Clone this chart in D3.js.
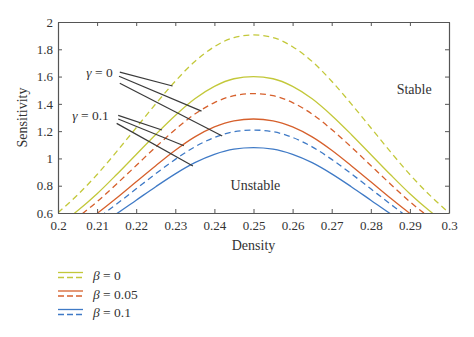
<!DOCTYPE html>
<html>
<head>
<meta charset="utf-8">
<script src="https://cdn.jsdelivr.net/npm/d3@7"></script>
<style>
  html, body { margin: 0; padding: 0; background: #fff; }
  svg text { font-family: "Liberation Serif", "DejaVu Serif", serif; fill: #333; }
</style>
</head>
<body>
<svg id="chart" width="474" height="337"></svg>
<script>
// ---- data ----
const density = [0.200,0.205,0.210,0.215,0.220,0.225,0.230,0.235,0.240,0.245,0.250,
                 0.255,0.260,0.265,0.270,0.275,0.280,0.285,0.290,0.295,0.300];
// beta = 0
const beta0_gamma0   = [0.602,0.733,0.882,1.050,1.225,1.400,1.566,1.711,1.819,1.886,1.905,1.886,1.819,1.711,1.566,1.400,1.225,1.050,0.882,0.733,0.602];
const beta0_gamma01  = [0.506,0.616,0.741,0.882,1.029,1.176,1.315,1.437,1.528,1.584,1.600,1.584,1.528,1.437,1.315,1.176,1.029,0.882,0.741,0.616,0.506];
// beta = 0.05
const beta005_gamma0  = [0.466,0.568,0.683,0.813,0.948,1.084,1.212,1.325,1.409,1.460,1.475,1.460,1.409,1.325,1.212,1.084,0.948,0.813,0.683,0.568,0.466];
const beta005_gamma01 = [0.407,0.496,0.597,0.710,0.829,0.947,1.060,1.158,1.231,1.276,1.289,1.276,1.231,1.158,1.060,0.947,0.829,0.710,0.597,0.496,0.407];
// beta = 0.1
const beta01_gamma0  = [0.382,0.465,0.559,0.666,0.777,0.888,0.993,1.085,1.154,1.196,1.208,1.196,1.154,1.085,0.993,0.888,0.777,0.666,0.559,0.465,0.382];
const beta01_gamma01 = [0.341,0.415,0.500,0.595,0.694,0.793,0.887,0.969,1.030,1.068,1.079,1.068,1.030,0.969,0.887,0.793,0.694,0.595,0.500,0.415,0.341];

const xTicks = [0.2,0.21,0.22,0.23,0.24,0.25,0.26,0.27,0.28,0.29,0.3];
const xTickLabels = ["0.2","0.21","0.22","0.23","0.24","0.25","0.26","0.27","0.28","0.29","0.3"];
const yTicks = [0.6,0.8,1,1.2,1.4,1.6,1.8,2];
const yTickLabels = ["0.6","0.8","1","1.2","1.4","1.6","1.8","2"];

const betaLabels = ["0","0.05","0.1"];
const colors = ["#c3c83a","#d6602c","#3f7ac6"];

// series: [values, color index, dashed]
const series = [
  [beta0_gamma0, 0, true],
  [beta0_gamma01, 0, false],
  [beta005_gamma0, 1, true],
  [beta005_gamma01, 1, false],
  [beta01_gamma0, 2, true],
  [beta01_gamma01, 2, false]
];

// annotation leader lines in data units: [x0,y0,x1,y1]
const gamma0Leaders = [
  [0.2158,1.633,0.2293,1.531],
  [0.2156,1.602,0.2367,1.347],
  [0.2158,1.551,0.2420,1.164]
];
const gamma01Leaders = [
  [0.2154,1.316,0.2266,1.208],
  [0.2154,1.289,0.2322,1.093],
  [0.2150,1.257,0.2345,0.944]
];

// ---- layout ----
const svg = d3.select("#chart");
const L = 58, R = 449, T = 22, B = 213;
const x = d3.scaleLinear().domain([0.2,0.3]).range([L,R]);
const y = d3.scaleLinear().domain([0.6,2]).range([B,T]);

svg.append("rect").attr("width",474).attr("height",337).attr("fill","#fff");

svg.append("defs").append("clipPath").attr("id","clip")
  .append("rect").attr("x",L).attr("y",T).attr("width",R-L).attr("height",B-T);

// curves
const line = d3.line().x((d,i)=>x(density[i])).y(d=>y(d)).curve(d3.curveMonotoneX);
const g = svg.append("g").attr("clip-path","url(#clip)");
series.forEach(([vals,ci,dashed])=>{
  g.append("path").datum(vals)
    .attr("d",line)
    .attr("fill","none")
    .attr("stroke",colors[ci])
    .attr("stroke-width",1.3)
    .attr("stroke-dasharray",dashed?"6,4":null);
});

// axes
const axisColor = "#555";
function styleAxis(sel){
  sel.attr("font-size",13).attr("font-family",'"Liberation Serif", serif');
  sel.selectAll("path.domain").attr("stroke",axisColor).attr("stroke-width",1.2);
  sel.selectAll(".tick line").attr("stroke",axisColor).attr("stroke-width",1);
  sel.selectAll(".tick text").attr("fill","#333").attr("font-size",13);
}
const xa = svg.append("g").attr("transform",`translate(0,${B})`)
  .call(d3.axisBottom(x).tickValues(xTicks).tickFormat((d,i)=>xTickLabels[i])
        .tickSizeInner(-4).tickSizeOuter(0).tickPadding(8));
styleAxis(xa);
const xt = svg.append("g").attr("transform",`translate(0,${T})`)
  .call(d3.axisTop(x).tickValues(xTicks).tickFormat("")
        .tickSizeInner(-4).tickSizeOuter(0));
styleAxis(xt);
const ya = svg.append("g").attr("transform",`translate(${L},0)`)
  .call(d3.axisLeft(y).tickValues(yTicks).tickFormat((d,i)=>yTickLabels[i])
        .tickSizeInner(-4).tickSizeOuter(0).tickPadding(5));
styleAxis(ya);
const yr = svg.append("g").attr("transform",`translate(${R},0)`)
  .call(d3.axisRight(y).tickValues(yTicks).tickFormat("")
        .tickSizeInner(-4).tickSizeOuter(0));
styleAxis(yr);

// axis titles
svg.append("text").attr("x",(L+R)/2).attr("y",250).attr("text-anchor","middle")
  .attr("font-size",14).text("Density");
svg.append("text").attr("transform",`translate(27,${(T+B)/2}) rotate(-90)`)
  .attr("text-anchor","middle").attr("font-size",14).text("Sensitivity");

// region labels
svg.append("text").attr("x",x(0.2911)).attr("y",y(1.47)).attr("text-anchor","middle")
  .attr("font-size",14).text("Stable");
svg.append("text").attr("x",x(0.2505)).attr("y",y(0.765)).attr("text-anchor","middle")
  .attr("font-size",14).text("Unstable");

// gamma annotations
function gammaLabel(xv,yv,val){
  const t = svg.append("text").attr("x",x(xv)).attr("y",y(yv)).attr("text-anchor","end")
    .attr("font-size",13.5);
  t.append("tspan").style("font-style","italic").text("γ");
  t.append("tspan").text(" = " + val);
}
gammaLabel(0.2140,1.595,"0");
gammaLabel(0.2130,1.285,"0.1");
[...gamma0Leaders, ...gamma01Leaders].forEach(l=>{
  svg.append("line").attr("x1",x(l[0])).attr("y1",y(l[1]))
    .attr("x2",x(l[2])).attr("y2",y(l[3]))
    .attr("stroke","#3a3a3a").attr("stroke-width",1.2);
});

// legend
const legY = [272.5, 291, 309.5];
betaLabels.forEach((b,i)=>{
  const yy = legY[i];
  svg.append("line").attr("x1",58).attr("x2",83).attr("y1",yy).attr("y2",yy)
    .attr("stroke",colors[i]).attr("stroke-width",1.3);
  svg.append("line").attr("x1",58).attr("x2",83).attr("y1",yy+5).attr("y2",yy+5)
    .attr("stroke",colors[i]).attr("stroke-width",1.3).attr("stroke-dasharray","6,3");
  const t = svg.append("text").attr("x",93).attr("y",yy+7.5).attr("font-size",13.5);
  t.append("tspan").style("font-style","italic").text("β");
  t.append("tspan").text(" = " + b);
});
</script>
</body>
</html>
